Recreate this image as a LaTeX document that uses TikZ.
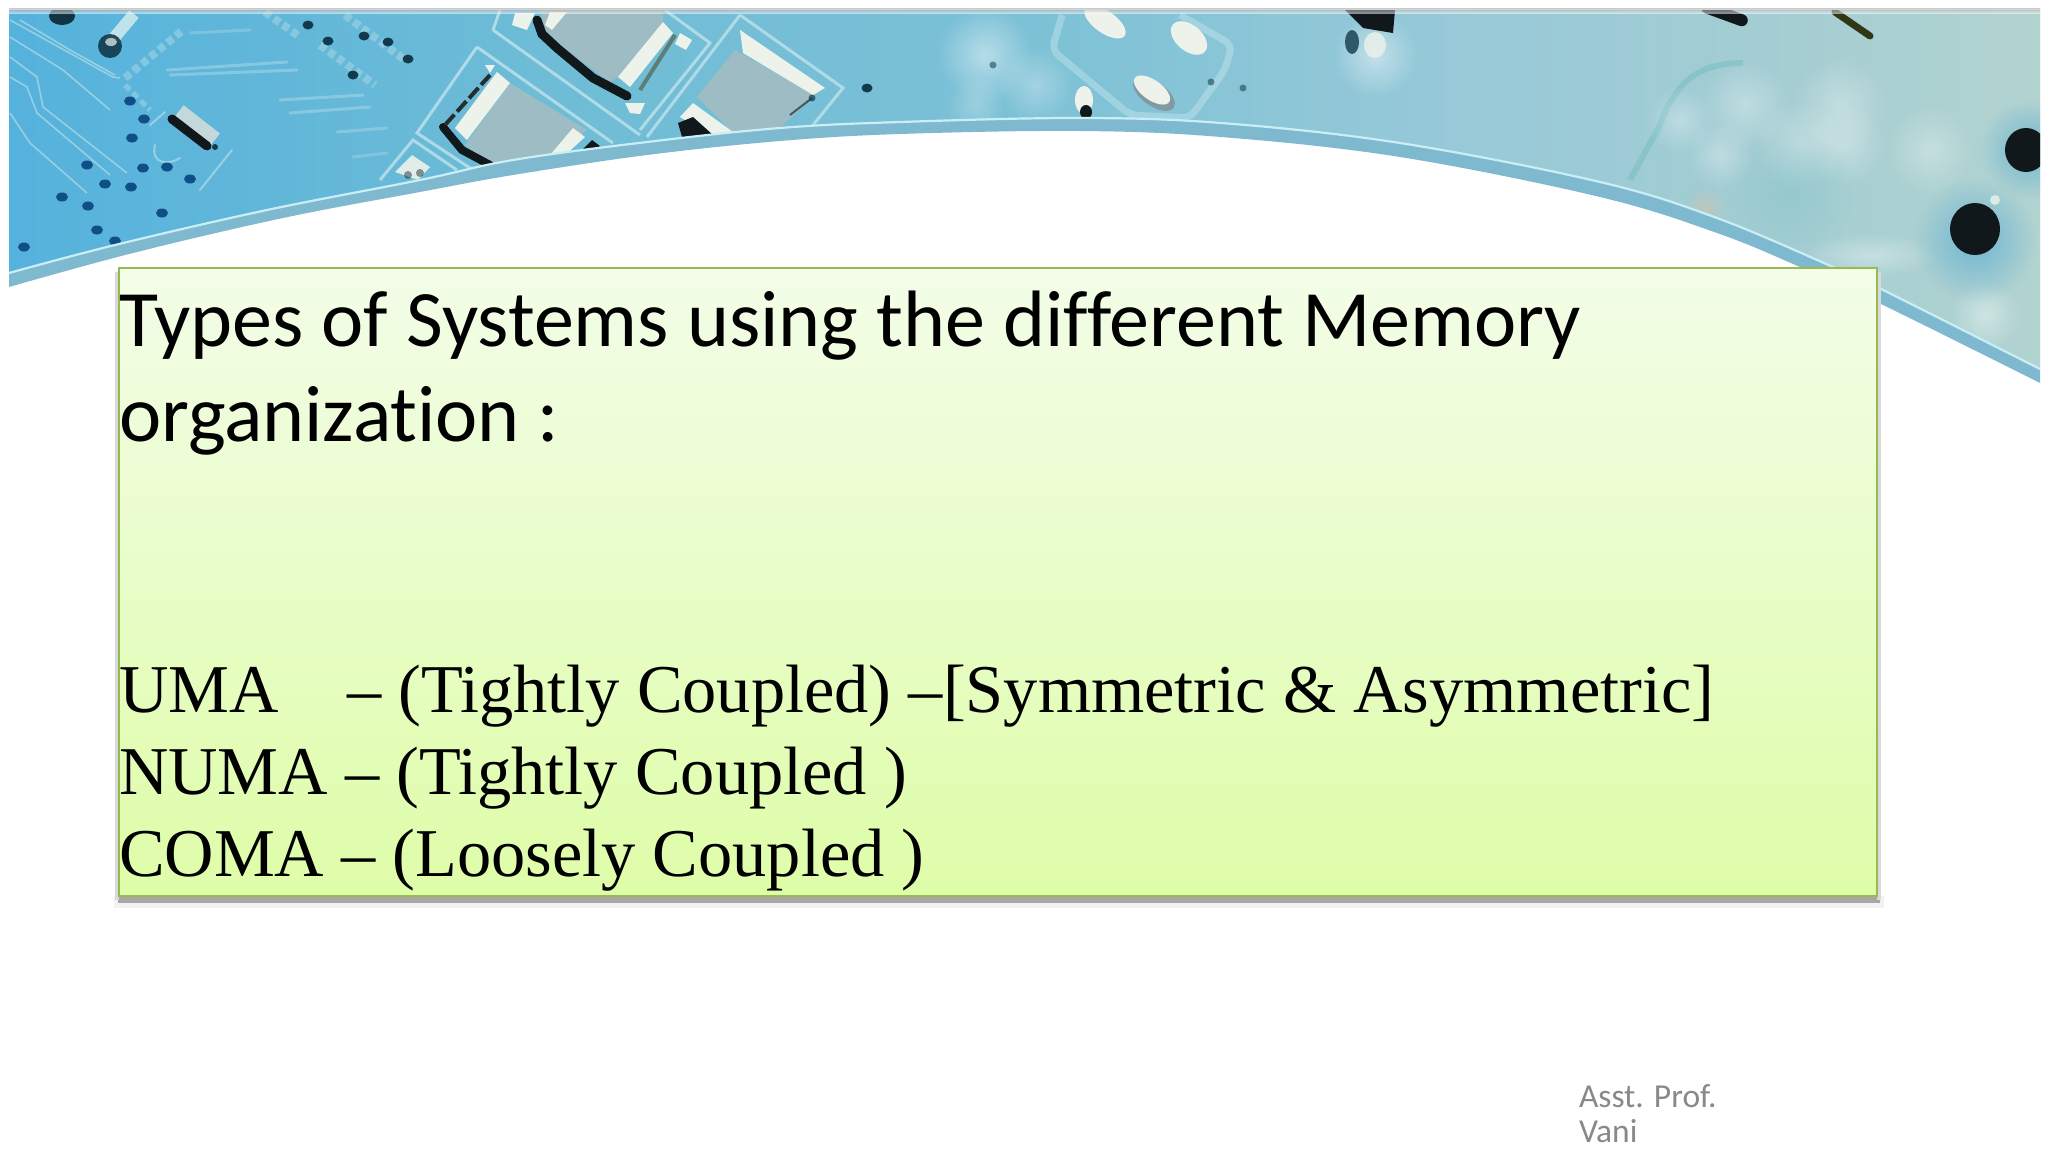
\documentclass[tikz,border=0pt]{standalone}
\usepackage{fontspec}
\usetikzlibrary{fadings}
\newfontfamily\calfam[Ligatures=NoCommon]{Carlito}
\newfontfamily\tmsfam{Liberation Serif}
\definecolor{bandc}{HTML}{7FB9CF}
\definecolor{lightline}{HTML}{C9EEF6}
\definecolor{pale}{HTML}{BFE3EA}
\definecolor{chipgray}{HTML}{9DBCC3}
\definecolor{chipwhite}{HTML}{EDF2EA}
\definecolor{darkc}{HTML}{10181C}
\definecolor{viac}{HTML}{0F4F85}
\definecolor{viad}{HTML}{123A4C}
\definecolor{boxline}{HTML}{98B954}
\definecolor{greytxt}{HTML}{898989}
\definecolor{halo}{HTML}{6FB6D2}
\definecolor{pcA}{HTML}{55B2DC}
\definecolor{pcB}{HTML}{6EBCD6}
\definecolor{pcC}{HTML}{7CC1D6}
\definecolor{pcD}{HTML}{96C9D8}
\definecolor{pcE}{HTML}{A3CDD3}
\definecolor{pcF}{HTML}{B2D3D0}
\definecolor{bxA}{HTML}{DEFDA8}
\definecolor{bxB}{HTML}{F3FDE8}
\pgfdeclarehorizontalshading{pcb}{100bp}{color(0bp)=(pcA);color(25bp)=(pcA);color(38bp)=(pcB);color(50bp)=(pcC);color(60bp)=(pcD);color(68bp)=(pcE);color(75bp)=(pcF);color(100bp)=(pcF)}
\pgfdeclareverticalshading{boxgrad}{100bp}{color(0bp)=(bxA);color(25bp)=(bxA);color(75bp)=(bxB);color(100bp)=(bxB)}
\tikzfading[name=softblob,inner color=transparent!0,outer color=transparent!100]
\tikzset{
  x=1pt,y=-1pt,
  trace/.style={draw=pale,line width=1.6pt,opacity=.6},
  silk/.style={draw=pale,line width=3pt,opacity=.7,line cap=round},
  ringrow/.style={draw=pale,line width=8pt,dash pattern=on 7pt off 4pt,opacity=.4},
  pad/.style={draw=pale,line width=3pt,opacity=.8},
  blob/.style={fill=#1,path fading=softblob},
  labeltxt/.style={anchor=base west,inner sep=0pt,outer sep=0pt},
  headtxt/.style={labeltxt,font=\calfam\fontsize{80}{80}\selectfont,text=black},
  bodytxt/.style={labeltxt,font=\tmsfam\fontsize{68.4}{70}\selectfont,text=black},
  notetxt/.style={labeltxt,font=\calfam\fontsize{33.5}{34}\selectfont,text=greytxt},
}
\begin{document}
\begin{tikzpicture}
\useasboundingbox (0,0) rectangle (2048,1152);
\fill[white] (0,0) rectangle (2048,1152);
\def\outeredge{(9,287) (133,253) (283,218) (420,192) (513,175) (647,155) (780,141) (900,134) (1079,131) (1221,137) (1400,157) (1600,197) (1717,233) (1800,267) (1883,305) (2040,383)}
\def\inneredge{(9,273) (115,245) (267,210) (420,180) (513,160) (647,142) (780,128) (900,122) (1079,118) (1221,123) (1400,143) (1600,182) (1717,218) (1833,267) (1883,290) (2040,369)}
% band
\fill[bandc] (9,10) -- plot[smooth,tension=.6] coordinates {\outeredge} -- (2040,10) -- cycle;
\begin{scope}
\clip (9,10) -- plot[smooth,tension=.6] coordinates {\inneredge} -- (2040,10) -- cycle;
\shade[shading=pcb] (9,10) rectangle (2040,390);
% left traces
\draw[trace] (10,20) -- (113,77) -- (120,78);
\draw[trace] (10,37) -- (63,70) -- (110,110);
\draw[trace] (10,57) -- (37,77) -- (43,107) -- (127,173);
\draw[trace] (10,77) -- (27,87) -- (37,113) -- (110,175);
\draw[trace] (10,113) -- (30,143) -- (87,193);
\draw[trace] (20,20) -- (70,50) -- (115,75);
\draw[silk,opacity=.4] (170,75) -- (297,70);
\draw[silk,opacity=.4] (167,70) -- (287,62);
\draw[silk,opacity=.3] (190,33) -- (250,30);
\draw[silk,opacity=.4] (280,100) -- (363,95);
\draw[silk,opacity=.4] (290,113) -- (370,107);
\draw[silk,opacity=.35] (337,132) -- (387,128);
\draw[silk,opacity=.3] (353,157) -- (387,153);
\draw[silk,opacity=.6,line width=2pt] (165,112) -- (150,125);
\draw[silk,opacity=.6,line width=2pt] (232,150) -- (200,190);
\draw[silk,opacity=.6,line width=2pt] (155,145) .. controls (150,165) and (170,165) .. (180,158);
% ring rows
\draw[ringrow] (125,78) -- (183,30);
\draw[ringrow] (265,12) -- (300,37);
\draw[ringrow] (320,45) -- (375,85);
\draw[ringrow] (345,15) -- (405,60);
\draw[ringrow,line width=5pt] (125,85) -- (150,110);
% vias
\foreach \p in {(130,101),(144,119),(132,138),(87,165),(143,168),(167,167),(190,179),(105,184),(131,187),(62,197),(88,206),(162,213),(97,230),(115,241),(24,247)}
  \fill[viac] \p ellipse (6pt and 4.5pt);
\foreach \p in {(308,25),(328,41),(364,36),(388,42),(408,59),(353,75),(867,88)}
  \fill[viad] \p ellipse (5.5pt and 4.5pt);
% left small parts
\fill[viad!90!black] (62,16) ellipse (13pt and 9pt);
\fill[pale,rotate around={50:(122,30)}] (106,23) rectangle (142,35);
\fill[viad,opacity=.9] (110,46) circle (12pt);
\fill[chipwhite,opacity=.7] (111,42) ellipse (6pt and 4pt);
\fill[chipgray!60!white,rotate around={-38:(195,128)}] (172,117) rectangle (218,139);
\draw[darkc,line width=9pt,line cap=round] (172,119) -- (207,146);
\fill[viad] (215,147) circle (3pt);
% pad outlines
\draw[pad] (493,30) -- (640,135);
\draw[pad] (665,10) -- (710,43) -- (640,130);
\draw[pad] (477,47) -- (417,133) -- (473,170);
\draw[pad] (477,47) -- (613,143);
\draw[pad] (740,15) -- (843,88) -- (813,125);
\draw[pad] (740,15) -- (647,137);
\draw[pad] (380,180) -- (413,140) -- (457,170);
\draw[pad] (500,10) -- (493,30);
% chip A
\fill[chipgray] (540,10) -- (663,10) -- (663,23) -- (618,77) -- (610,82) -- (545,35) -- cycle;
\draw[darkc,line width=9pt,line cap=round] (537,20) -- (542,34) -- (557,48) -- (593,78) -- (627,96);
\fill[chipwhite] (663,22) -- (673,33) -- (630,87) -- (618,77) -- cycle;
\fill[chipwhite] (515,13) -- (535,13) -- (527,30) -- (512,25) -- cycle;
\fill[chipwhite] (550,12) -- (567,12) -- (552,30) -- (545,25) -- cycle;
\fill[chipwhite] (680,33) -- (692,40) -- (686,50) -- (675,44) -- cycle;
\fill[chipwhite] (625,103) -- (645,103) -- (640,114) -- (630,113) -- cycle;
\draw[black!60!olive,line width=4pt,opacity=.55] (675,35) -- (640,90);
% chip B
\fill[chipgray] (510,83) -- (587,130) -- (550,157) -- (490,163) -- (465,145) -- cycle;
\draw[darkc,line width=8pt,line cap=round] (443,127) -- (462,150) -- (490,165);
\draw[darkc!80!gray,line width=4pt,dash pattern=on 14pt off 4pt] (445,125) -- (490,75);
\fill[chipwhite] (497,72) -- (510,83) -- (467,140) -- (455,128) -- cycle;
\fill[chipwhite] (573,128) -- (585,137) -- (563,157) -- (550,155) -- cycle;
\fill[darkc] (582,150) -- (592,140) -- (600,146) -- (590,152) -- cycle;
\fill[chipwhite] (485,65) -- (495,65) -- (490,73) -- cycle;
% chip C
\fill[chipgray] (735,50) -- (815,95) -- (780,128) -- (733,133) -- (697,97) -- cycle;
\fill[chipwhite] (740,30) -- (825,88) -- (813,95) -- (743,53) -- cycle;
\fill[chipwhite] (693,103) -- (733,132) -- (713,137) -- (680,117) -- cycle;
\fill[darkc] (678,123) -- (693,117) -- (713,135) -- (682,137) -- cycle;
\draw[darkc,line width=2pt,opacity=.6] (790,115) -- (812,98);
\fill[viad,opacity=.7] (812,98) circle (3.5pt);
% chip D
\fill[chipwhite,opacity=.9] (395,172) -- (412,155) -- (430,167) -- (418,180) -- cycle;
\fill[darkc,opacity=.45] (408,175) circle (4pt) (420,173) circle (4pt);
% centre right detail
\fill[blob=white,opacity=.45] (985,55) circle (48pt);
\fill[blob=white,opacity=.3] (1035,85) circle (38pt);
\fill[blob=white,opacity=.25] (975,105) circle (30pt);
\draw[pale,line width=7pt,opacity=.5,rounded corners=8pt] (1062,15) -- (1052,50) -- (1130,115) -- (1190,118) -- (1225,70) -- (1232,45) -- (1180,15);
\fill[chipwhite,rotate around={-35:(1105,22)}] (1105,22) ellipse (24pt and 11pt);
\fill[chipwhite,rotate around={-40:(1189,38)}] (1189,38) ellipse (21pt and 13pt);
\fill[gray,opacity=.6,rotate around={-35:(1154,94)}] (1154,94) ellipse (24pt and 12pt);
\fill[chipwhite,rotate around={-35:(1152,90)}] (1152,90) ellipse (21pt and 10pt);
\fill[chipwhite] (1084,100) ellipse (9pt and 14pt);
\fill[darkc] (1086,112) ellipse (6pt and 7pt);
\foreach \p in {(993,65),(1243,88),(1211,82)}
  \fill[viad,opacity=.55] \p circle (3.5pt);
\fill[blob=white,opacity=.45] (1375,55) circle (42pt);
\fill[viad,opacity=.8] (1352,42) ellipse (7pt and 12pt);
\fill[darkc] (1345,10) -- (1395,10) -- (1393,33) -- (1363,28) -- cycle;
\fill[chipwhite,opacity=.8] (1375,45) ellipse (11pt and 13pt);
% far right detail
\draw[rotate around={-20:(1727,17)},darkc,line width=12pt,line cap=round] (1705,15) -- (1742,15);
\draw[darkc!70!olive,line width=7pt,line cap=round] (1835,12) -- (1870,36);
\draw[teal!35!pale,line width=6pt,opacity=.6] (1630,180) -- (1660,125) .. controls (1675,85) and (1695,63) .. (1743,63);
\foreach \p/\r in {(1745,105)/45,(1800,145)/45,(1840,105)/48,(1845,145)/42,(1720,155)/34,(1930,150)/45,(1680,120)/34}
  \fill[blob=white,opacity=.3] \p circle (\r pt);
\fill[blob=teal!30!pale,opacity=.5] (1790,195) circle (65pt);
\fill[blob=white,opacity=.35] (1870,255) ellipse (70pt and 22pt);
\fill[blob=white,opacity=.4] (1985,315) circle (35pt);
\fill[blob=white!50!orange,opacity=.3] (1705,208) circle (22pt);
\fill[blob=halo] (1975,240) circle (62pt);
\fill[darkc] (1975,229) ellipse (25pt and 26pt);
\fill[chipwhite,opacity=.8] (1995,200) circle (5pt);
\fill[blob=halo] (2030,150) circle (50pt);
\fill[darkc] (2026,150) ellipse (21pt and 22pt);
\end{scope}
\draw[lightline,line width=2.2pt] plot[smooth,tension=.6] coordinates {\inneredge};
% top edge shadow
\shade[top color=gray!75,bottom color=gray!5,opacity=.55] (9,8) rectangle (2040,13);
% box shadow
\fill[gray!10] (114,896) rectangle (1884,908);
\fill[gray!85!black!60] (118,890) rectangle (1880,903);
\fill[gray!30] (1877,272) rectangle (1881,900);
\fill[gray!30] (115,272) rectangle (119,900);
% box
\shade[shading=boxgrad] (119,268) rectangle (1877,896);
\draw[boxline,line width=2.4pt] (119,268) rectangle (1877,896);
% text
\node[headtxt] (line1) at (119,346) {Types of Systems using the different Memory};
\node[headtxt] (line2) at (119,441) {organization :};
\node[bodytxt] (uma1) at (119,712) {UMA};
\node[bodytxt] (uma2) at (347,712) {– (Tightly Coupled) –[Symmetric \& Asymmetric]};
\node[bodytxt] (numa) at (119,794) {NUMA – (Tightly Coupled )};
\node[bodytxt] (coma) at (119,876) {COMA – (Loosely Coupled )};
\node[notetxt] (asst) at (1579,1107) {Asst. Prof.};
\node[notetxt] (vani) at (1579,1142) {Vani};
\end{tikzpicture}
\end{document}
